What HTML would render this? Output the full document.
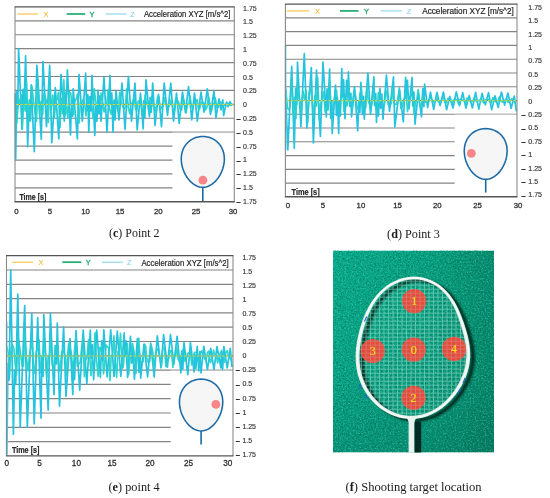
<!DOCTYPE html>
<html lang="en"><head><meta charset="utf-8"><title>Racket acceleration figure</title>
<style>html,body{margin:0;padding:0;background:#fff}body{width:550px;height:498px;overflow:hidden}svg{display:block}</style>
</head><body>
<svg width="550" height="498" viewBox="0 0 550 498">
<defs>
<pattern id="dots" width="1.6" height="1.6" patternUnits="userSpaceOnUse"><rect width="1.6" height="1.6" fill="#f9f9f9"/><circle cx="0.8" cy="0.8" r="0.35" fill="#e2e2e2"/></pattern>
<filter id="grain" color-interpolation-filters="sRGB" x="0" y="0" width="100%" height="100%"><feTurbulence type="fractalNoise" baseFrequency="0.6" numOctaves="3" seed="7" result="n"/><feColorMatrix type="matrix" values="0 0 0 0 0.01  0 0 0 0 0.38  0 0 0 0 0.30  3.2 0 0 0 -1.55"/></filter>
<filter id="grainL" color-interpolation-filters="sRGB" x="0" y="0" width="100%" height="100%"><feTurbulence type="fractalNoise" baseFrequency="0.6" numOctaves="3" seed="23" result="n"/><feColorMatrix type="matrix" values="0 0 0 0 0.37  0 0 0 0 0.88  0 0 0 0 0.78  3.2 0 0 0 -1.55"/></filter>
<filter id="blur1" x="-10%" y="-10%" width="120%" height="120%"><feGaussianBlur stdDeviation="0.8"/></filter>
<filter id="blur05" x="-20%" y="-10%" width="140%" height="120%"><feGaussianBlur stdDeviation="0.6"/></filter>
<linearGradient id="gbg" x1="0" y1="0" x2="1" y2="0"><stop offset="0" stop-color="#07ac8c"/><stop offset="0.6" stop-color="#06a080"/><stop offset="1" stop-color="#058c6c"/></linearGradient>
<linearGradient id="gbg2" x1="0" y1="0" x2="0" y2="1"><stop offset="0" stop-color="#000" stop-opacity="0"/><stop offset="0.6" stop-color="#000" stop-opacity="0.04"/><stop offset="1" stop-color="#000" stop-opacity="0.14"/></linearGradient>
</defs>
<rect width="550" height="498" fill="#fff"/>
<rect x="15.0" y="6.9" width="219.3" height="194.9" fill="#fff"/>
<line x1="15.0" y1="20.82" x2="234.3" y2="20.82" stroke="#848484" stroke-width="1.2"/>
<line x1="15.0" y1="34.74" x2="234.3" y2="34.74" stroke="#848484" stroke-width="1.2"/>
<line x1="15.0" y1="48.66" x2="234.3" y2="48.66" stroke="#848484" stroke-width="1.2"/>
<line x1="15.0" y1="62.59" x2="234.3" y2="62.59" stroke="#848484" stroke-width="1.2"/>
<line x1="15.0" y1="76.51" x2="234.3" y2="76.51" stroke="#848484" stroke-width="1.2"/>
<line x1="15.0" y1="90.43" x2="234.3" y2="90.43" stroke="#848484" stroke-width="1.2"/>
<line x1="15.0" y1="104.35" x2="234.3" y2="104.35" stroke="#848484" stroke-width="1.2"/>
<line x1="15.0" y1="118.27" x2="234.3" y2="118.27" stroke="#848484" stroke-width="1.2"/>
<line x1="15.0" y1="132.19" x2="234.3" y2="132.19" stroke="#848484" stroke-width="1.2"/>
<line x1="172.4" y1="132.19" x2="234.3" y2="132.19" stroke="#cfcfcf" stroke-width="1.2"/>
<line x1="15.0" y1="146.11" x2="172.4" y2="146.11" stroke="#848484" stroke-width="1.2"/>
<line x1="15.0" y1="160.04" x2="172.4" y2="160.04" stroke="#848484" stroke-width="1.2"/>
<line x1="15.0" y1="173.96" x2="172.4" y2="173.96" stroke="#848484" stroke-width="1.2"/>
<line x1="15.0" y1="187.88" x2="172.4" y2="187.88" stroke="#848484" stroke-width="1.2"/>
<polyline points="15.5,101.3 16.9,123.2 18.4,98.1 20.0,103.4 21.2,94.7 22.4,128.8 23.6,101.0 25.2,111.2 26.6,81.4 27.9,124.8 29.2,99.7 30.5,120.6 31.9,86.0 33.6,101.5 34.9,111.2 36.5,121.4 38.0,79.4 39.6,115.0 41.0,101.4 42.6,114.9 44.0,93.1 45.3,97.6 46.9,102.5 48.3,122.5 49.8,83.8 51.1,109.7 52.8,95.0 54.3,118.1 56.0,100.1 57.3,99.7 58.4,92.4 60.0,127.5 61.4,98.2 62.6,114.0 63.8,79.7 65.2,115.8 66.6,106.2 67.8,118.0 69.2,91.5 70.8,93.0 72.4,112.7 73.5,114.3 74.8,101.6 76.1,99.2 77.5,94.0 79.0,123.2 80.4,102.0 81.8,103.2 83.4,98.8 84.8,105.6 86.0,116.0 87.2,101.3 88.6,97.3 90.2,104.4 91.7,106.0 93.0,118.7 94.3,88.7 95.6,100.9 97.2,108.9 98.5,111.1 99.6,109.8 101.1,93.1 102.7,102.7 104.1,112.0 105.5,105.5 106.7,105.2 108.1,89.7 109.7,109.5 111.1,114.2 112.4,104.6 113.9,100.1 115.5,99.8 117.2,108.8 118.4,111.6 119.6,92.2 121.2,102.7 122.5,105.3 124.1,109.4 125.5,106.0 126.7,88.6 128.3,107.6 129.8,113.8 131.1,104.5 132.7,101.6 134.1,97.0 135.6,109.1 136.8,111.1 138.0,101.2 139.4,100.7 140.6,97.2 142.2,115.0 143.8,107.4 145.2,95.0 146.4,103.1 147.7,103.3 149.0,114.3 150.6,101.0 151.9,96.3 153.3,106.3 154.6,106.8 155.9,112.2 157.5,97.1 159.0,96.8 160.3,110.0 161.9,106.5 163.2,106.2 164.6,97.7 165.9,102.8 167.1,109.5 168.4,107.6 170.0,104.2 171.5,98.7 172.7,107.9 174.3,112.4 175.7,98.8 177.3,100.9 178.5,101.3 180.0,108.9 181.6,110.1 182.9,97.1 184.4,102.3 186.0,113.0 187.5,104.5 188.8,103.9 190.0,95.8 191.4,105.5 192.6,108.4 194.2,103.1 195.6,102.9 197.1,99.6 198.4,108.8 199.7,108.9 201.0,102.4 202.6,102.4 204.0,103.2 205.4,110.0 207.0,107.2 208.5,96.3 210.0,104.6 211.5,110.9 213.0,103.4 214.2,103.7 215.4,97.8 216.7,107.5 218.3,107.3 219.8,101.7 221.4,102.4 223.0,104.8 224.5,105.4 226.1,104.8 227.5,103.1 228.7,104.1 229.9,105.0 231.1,105.4 232.6,104.5" fill="none" stroke="#2ad6c8" stroke-width="1.6" stroke-linejoin="round" opacity="0.95"/>
<polyline points="15.3,93.2 15.7,158.9 16.7,91.3 17.8,107.8 18.6,48.7 22.0,129.4 23.0,89.4 24.1,105.4 25.6,55.9 27.7,146.7 29.0,107.5 30.1,120.9 31.2,84.9 34.3,151.7 36.9,65.4 41.3,139.4 43.0,61.5 46.5,126.6 49.7,65.4 51.8,142.8 55.3,87.6 58.8,138.9 61.0,74.3 64.3,121.1 65.1,92.7 66.2,104.8 67.4,69.8 70.5,135.0 71.5,100.4 72.6,116.4 73.2,88.8 77.4,138.9 79.0,74.3 82.3,121.1 85.7,73.2 86.7,110.8 87.8,94.6 88.8,132.2 89.9,96.6 91.0,110.9 92.0,75.4 94.8,135.5 95.8,106.2 96.9,121.3 98.0,90.4 98.9,113.9 100.0,95.8 101.0,121.1 104.0,77.1 107.0,132.2 110.0,75.4 110.7,104.3 111.8,93.2 113.0,132.2 114.0,100.9 115.1,119.9 116.0,91.0 119.0,119.9 122.0,83.2 125.0,129.4 128.4,76.5 131.5,121.1 135.0,83.2 137.2,130.0 140.5,93.2 143.2,128.9 143.8,100.9 144.9,117.5 146.0,79.8 149.5,116.6 150.1,97.6 151.2,112.2 152.7,83.2 155.0,125.5 158.5,94.3 161.5,126.6 164.2,83.2 167.5,115.5 170.8,83.2 173.5,121.1 176.5,93.2 179.2,123.3 182.5,92.1 185.5,112.7 188.5,86.5 191.8,119.9 194.5,93.2 197.3,121.1 201.0,92.1 204.0,112.1 207.3,88.8 210.5,114.4 214.0,91.0 216.0,117.7 219.0,98.8 221.0,109.9 222.8,99.9 223.6,115.5 226.5,102.1 228.0,106.6 230.0,101.6 232.0,105.5" fill="none" stroke="#24c3e0" stroke-width="1.7" stroke-linejoin="round" />
<polyline points="15.5,101.3 16.9,123.2 18.4,98.1 20.0,103.4 21.2,94.7 22.4,128.8 23.6,101.0 25.2,111.2 26.6,81.4 27.9,124.8 29.2,99.7 30.5,120.6 31.9,86.0 33.6,101.5 34.9,111.2 36.5,121.4 38.0,79.4 39.6,115.0 41.0,101.4 42.6,114.9 44.0,93.1 45.3,97.6 46.9,102.5 48.3,122.5 49.8,83.8 51.1,109.7 52.8,95.0 54.3,118.1 56.0,100.1 57.3,99.7 58.4,92.4 60.0,127.5 61.4,98.2 62.6,114.0 63.8,79.7 65.2,115.8 66.6,106.2 67.8,118.0 69.2,91.5 70.8,93.0 72.4,112.7 73.5,114.3 74.8,101.6 76.1,99.2 77.5,94.0 79.0,123.2 80.4,102.0 81.8,103.2 83.4,98.8 84.8,105.6 86.0,116.0 87.2,101.3 88.6,97.3 90.2,104.4 91.7,106.0 93.0,118.7 94.3,88.7 95.6,100.9 97.2,108.9 98.5,111.1 99.6,109.8 101.1,93.1 102.7,102.7 104.1,112.0 105.5,105.5 106.7,105.2 108.1,89.7 109.7,109.5 111.1,114.2 112.4,104.6 113.9,100.1 115.5,99.8 117.2,108.8 118.4,111.6 119.6,92.2 121.2,102.7 122.5,105.3 124.1,109.4 125.5,106.0 126.7,88.6 128.3,107.6 129.8,113.8 131.1,104.5 132.7,101.6 134.1,97.0 135.6,109.1 136.8,111.1 138.0,101.2 139.4,100.7 140.6,97.2 142.2,115.0 143.8,107.4 145.2,95.0 146.4,103.1 147.7,103.3 149.0,114.3 150.6,101.0 151.9,96.3 153.3,106.3 154.6,106.8 155.9,112.2 157.5,97.1 159.0,96.8 160.3,110.0 161.9,106.5 163.2,106.2 164.6,97.7 165.9,102.8 167.1,109.5 168.4,107.6 170.0,104.2 171.5,98.7 172.7,107.9 174.3,112.4 175.7,98.8 177.3,100.9 178.5,101.3 180.0,108.9 181.6,110.1 182.9,97.1 184.4,102.3 186.0,113.0 187.5,104.5 188.8,103.9 190.0,95.8 191.4,105.5 192.6,108.4 194.2,103.1 195.6,102.9 197.1,99.6 198.4,108.8 199.7,108.9 201.0,102.4 202.6,102.4 204.0,103.2 205.4,110.0 207.0,107.2 208.5,96.3 210.0,104.6 211.5,110.9 213.0,103.4 214.2,103.7 215.4,97.8 216.7,107.5 218.3,107.3 219.8,101.7 221.4,102.4 223.0,104.8 224.5,105.4 226.1,104.8 227.5,103.1 228.7,104.1 229.9,105.0 231.1,105.4 232.6,104.5" fill="none" stroke="#2ad6c8" stroke-width="0.9" stroke-linejoin="round" opacity="0.6"/>
<line x1="16.0" y1="104.55" x2="233.3" y2="104.55" stroke="#e4d62c" stroke-width="1.0" stroke-dasharray="2.8 1.4" opacity="0.95"/>
<line x1="15.0" y1="6.9" x2="15.0" y2="201.8" stroke="#8a8a8a" stroke-width="1.1"/>
<line x1="234.3" y1="6.9" x2="234.3" y2="201.8" stroke="#8a8a8a" stroke-width="1.1"/>
<line x1="14.5" y1="6.9" x2="234.8" y2="6.9" stroke="#555" stroke-width="1.3"/>
<line x1="14.5" y1="201.8" x2="234.8" y2="201.8" stroke="#555" stroke-width="1.4"/>
<line x1="17.3" y1="14.0" x2="38.2" y2="14.0" stroke="#f6c443" stroke-width="1.15"/>
<text x="43.6" y="16.7" font-family='"Liberation Sans", "DejaVu Sans", sans-serif' font-size="7.4" fill="#f2b632" stroke="#f2b632" stroke-width="0.1">X</text>
<line x1="66.7" y1="14.0" x2="85.2" y2="14.0" stroke="#1eab6e" stroke-width="1.7"/>
<text x="89.4" y="16.7" font-family='"Liberation Sans", "DejaVu Sans", sans-serif' font-size="7.4" fill="#1ea56a" stroke="#1ea56a" stroke-width="0.3">Y</text>
<line x1="105.6" y1="14.0" x2="126.5" y2="14.0" stroke="#86d6ea" stroke-width="1.1"/>
<text x="130.2" y="16.7" font-family='"Liberation Sans", "DejaVu Sans", sans-serif' font-size="7.4" fill="#86d0e4" stroke="#86d0e4" stroke-width="0.1">Z</text>
<text x="143.9" y="17.3" font-family='"Liberation Sans", "DejaVu Sans", sans-serif' font-size="8.2" fill="#222" stroke="#222" stroke-width="0.18" textLength="86.5" lengthAdjust="spacingAndGlyphs">Acceleration XYZ [m/s^2]</text>
<text x="19.4" y="199.6" font-family='"Liberation Sans", "DejaVu Sans", sans-serif' font-size="8.2" font-weight="bold" fill="#2a2a2a" stroke="#2a2a2a" stroke-width="0.2" textLength="27.0" lengthAdjust="spacingAndGlyphs">Time [s]</text>
<text x="243.1" y="10.6" font-family='"Liberation Sans", "DejaVu Sans", sans-serif' font-size="7" fill="#333" stroke="#333" stroke-width="0.15">1.75</text>
<text x="243.1" y="24.4" font-family='"Liberation Sans", "DejaVu Sans", sans-serif' font-size="7" fill="#333" stroke="#333" stroke-width="0.15">1.5</text>
<text x="243.1" y="38.2" font-family='"Liberation Sans", "DejaVu Sans", sans-serif' font-size="7" fill="#333" stroke="#333" stroke-width="0.15">1.25</text>
<text x="243.1" y="52.0" font-family='"Liberation Sans", "DejaVu Sans", sans-serif' font-size="7" fill="#333" stroke="#333" stroke-width="0.15">1</text>
<text x="243.1" y="65.8" font-family='"Liberation Sans", "DejaVu Sans", sans-serif' font-size="7" fill="#333" stroke="#333" stroke-width="0.15">0.75</text>
<text x="243.1" y="79.6" font-family='"Liberation Sans", "DejaVu Sans", sans-serif' font-size="7" fill="#333" stroke="#333" stroke-width="0.15">0.5</text>
<text x="243.1" y="93.4" font-family='"Liberation Sans", "DejaVu Sans", sans-serif' font-size="7" fill="#333" stroke="#333" stroke-width="0.15">0.25</text>
<text x="243.1" y="107.2" font-family='"Liberation Sans", "DejaVu Sans", sans-serif' font-size="7" fill="#333" stroke="#333" stroke-width="0.15">0</text>
<text x="243.1" y="121.0" font-family='"Liberation Sans", "DejaVu Sans", sans-serif' font-size="7" fill="#333" stroke="#333" stroke-width="0.15">0.25</text>
<text x="236.4" y="121.1" font-family='"Liberation Sans", "DejaVu Sans", sans-serif' font-size="7.4" font-weight="bold" fill="#111" stroke="#111" stroke-width="0.3">&#8211;</text>
<text x="243.1" y="134.8" font-family='"Liberation Sans", "DejaVu Sans", sans-serif' font-size="7" fill="#333" stroke="#333" stroke-width="0.15">0.5</text>
<text x="236.4" y="134.9" font-family='"Liberation Sans", "DejaVu Sans", sans-serif' font-size="7.4" font-weight="bold" fill="#111" stroke="#111" stroke-width="0.3">&#8211;</text>
<text x="243.1" y="148.6" font-family='"Liberation Sans", "DejaVu Sans", sans-serif' font-size="7" fill="#333" stroke="#333" stroke-width="0.15">0.75</text>
<text x="236.4" y="148.7" font-family='"Liberation Sans", "DejaVu Sans", sans-serif' font-size="7.4" font-weight="bold" fill="#111" stroke="#111" stroke-width="0.3">&#8211;</text>
<text x="243.1" y="162.4" font-family='"Liberation Sans", "DejaVu Sans", sans-serif' font-size="7" fill="#333" stroke="#333" stroke-width="0.15">1</text>
<text x="236.4" y="162.5" font-family='"Liberation Sans", "DejaVu Sans", sans-serif' font-size="7.4" font-weight="bold" fill="#111" stroke="#111" stroke-width="0.3">&#8211;</text>
<text x="243.1" y="176.2" font-family='"Liberation Sans", "DejaVu Sans", sans-serif' font-size="7" fill="#333" stroke="#333" stroke-width="0.15">1.25</text>
<text x="236.4" y="176.3" font-family='"Liberation Sans", "DejaVu Sans", sans-serif' font-size="7.4" font-weight="bold" fill="#111" stroke="#111" stroke-width="0.3">&#8211;</text>
<text x="243.1" y="190.0" font-family='"Liberation Sans", "DejaVu Sans", sans-serif' font-size="7" fill="#333" stroke="#333" stroke-width="0.15">1.5</text>
<text x="236.4" y="190.1" font-family='"Liberation Sans", "DejaVu Sans", sans-serif' font-size="7.4" font-weight="bold" fill="#111" stroke="#111" stroke-width="0.3">&#8211;</text>
<text x="243.1" y="203.8" font-family='"Liberation Sans", "DejaVu Sans", sans-serif' font-size="7" fill="#333" stroke="#333" stroke-width="0.15">1.75</text>
<text x="236.4" y="203.9" font-family='"Liberation Sans", "DejaVu Sans", sans-serif' font-size="7.4" font-weight="bold" fill="#111" stroke="#111" stroke-width="0.3">&#8211;</text>
<text x="16.5" y="213.5" text-anchor="middle" font-family='"Liberation Sans", "DejaVu Sans", sans-serif' font-size="7.8" fill="#2e2e2e" stroke="#2e2e2e" stroke-width="0.28">0</text>
<text x="50.0" y="213.5" text-anchor="middle" font-family='"Liberation Sans", "DejaVu Sans", sans-serif' font-size="7.8" fill="#2e2e2e" stroke="#2e2e2e" stroke-width="0.28">5</text>
<text x="85.6" y="213.5" text-anchor="middle" font-family='"Liberation Sans", "DejaVu Sans", sans-serif' font-size="7.8" fill="#2e2e2e" stroke="#2e2e2e" stroke-width="0.28">10</text>
<text x="120.0" y="213.5" text-anchor="middle" font-family='"Liberation Sans", "DejaVu Sans", sans-serif' font-size="7.8" fill="#2e2e2e" stroke="#2e2e2e" stroke-width="0.28">15</text>
<text x="158.3" y="213.5" text-anchor="middle" font-family='"Liberation Sans", "DejaVu Sans", sans-serif' font-size="7.8" fill="#2e2e2e" stroke="#2e2e2e" stroke-width="0.28">20</text>
<text x="196.0" y="213.5" text-anchor="middle" font-family='"Liberation Sans", "DejaVu Sans", sans-serif' font-size="7.8" fill="#2e2e2e" stroke="#2e2e2e" stroke-width="0.28">25</text>
<text x="233.0" y="213.5" text-anchor="middle" font-family='"Liberation Sans", "DejaVu Sans", sans-serif' font-size="7.8" fill="#2e2e2e" stroke="#2e2e2e" stroke-width="0.28">30</text>
<path d="M 202.80 136.50 L 204.89 136.60 L 206.96 136.89 L 208.98 137.37 L 210.94 138.03 L 212.83 138.88 L 214.61 139.90 L 216.28 141.09 L 217.82 142.44 L 219.22 143.94 L 220.46 145.57 L 221.54 147.33 L 222.44 149.20 L 223.18 151.17 L 223.73 153.21 L 224.11 155.33 L 224.31 157.49 L 224.34 159.69 L 224.20 161.90 L 223.90 164.11 L 223.44 166.31 L 222.83 168.47 L 222.08 170.59 L 221.21 172.63 L 220.22 174.60 L 219.12 176.47 L 217.93 178.23 L 216.65 179.86 L 215.29 181.36 L 213.87 182.71 L 212.39 183.90 L 210.86 184.92 L 209.29 185.77 L 207.70 186.43 L 206.08 186.91 L 204.44 187.20 L 202.80 187.30 L 201.16 187.20 L 199.52 186.91 L 197.90 186.43 L 196.31 185.77 L 194.74 184.92 L 193.21 183.90 L 191.73 182.71 L 190.31 181.36 L 188.95 179.86 L 187.67 178.23 L 186.48 176.47 L 185.38 174.60 L 184.39 172.63 L 183.52 170.59 L 182.77 168.47 L 182.16 166.31 L 181.70 164.11 L 181.40 161.90 L 181.26 159.69 L 181.29 157.49 L 181.49 155.33 L 181.87 153.21 L 182.42 151.17 L 183.16 149.20 L 184.06 147.33 L 185.14 145.57 L 186.38 143.94 L 187.78 142.44 L 189.32 141.09 L 190.99 139.90 L 192.77 138.88 L 194.66 138.03 L 196.62 137.37 L 198.64 136.89 L 200.71 136.60 Z" fill="url(#dots)" stroke="#1b6aa5" stroke-width="1.55"/>
<line x1="202.8" y1="187.3" x2="202.8" y2="201.0" stroke="#1b6aa5" stroke-width="1.6"/>
<circle cx="202.9" cy="180.2" r="4.4" fill="#f8858a"/>
<text x="134.3" y="237.2" text-anchor="middle" font-family='"Liberation Serif", "DejaVu Serif", serif' font-size="11.6" fill="#1a1a1a" textLength="50.5" lengthAdjust="spacingAndGlyphs">(<tspan font-weight="bold">c</tspan>) Point 2</text>
<rect x="285.4" y="4.2" width="231.6" height="192.6" fill="#fff"/>
<line x1="285.4" y1="17.96" x2="517.0" y2="17.96" stroke="#848484" stroke-width="1.2"/>
<line x1="285.4" y1="31.71" x2="517.0" y2="31.71" stroke="#848484" stroke-width="1.2"/>
<line x1="285.4" y1="45.47" x2="517.0" y2="45.47" stroke="#848484" stroke-width="1.2"/>
<line x1="285.4" y1="59.23" x2="517.0" y2="59.23" stroke="#848484" stroke-width="1.2"/>
<line x1="285.4" y1="72.99" x2="517.0" y2="72.99" stroke="#848484" stroke-width="1.2"/>
<line x1="285.4" y1="86.74" x2="517.0" y2="86.74" stroke="#848484" stroke-width="1.2"/>
<line x1="285.4" y1="100.50" x2="517.0" y2="100.50" stroke="#848484" stroke-width="1.2"/>
<line x1="285.4" y1="114.26" x2="517.0" y2="114.26" stroke="#848484" stroke-width="1.2"/>
<line x1="454.7" y1="114.26" x2="517.0" y2="114.26" stroke="#cfcfcf" stroke-width="1.2"/>
<line x1="285.4" y1="128.01" x2="454.7" y2="128.01" stroke="#848484" stroke-width="1.2"/>
<line x1="285.4" y1="141.77" x2="454.7" y2="141.77" stroke="#848484" stroke-width="1.2"/>
<line x1="285.4" y1="155.53" x2="454.7" y2="155.53" stroke="#848484" stroke-width="1.2"/>
<line x1="285.4" y1="169.29" x2="454.7" y2="169.29" stroke="#848484" stroke-width="1.2"/>
<line x1="285.4" y1="183.04" x2="454.7" y2="183.04" stroke="#848484" stroke-width="1.2"/>
<polyline points="285.9,88.8 287.5,108.5 288.8,109.7 290.2,105.4 291.6,76.2 293.2,115.3 294.5,97.2 295.9,118.6 297.4,84.3 298.7,97.9 299.9,99.7 301.4,113.3 303.0,91.1 304.5,99.4 306.1,90.0 307.7,122.6 309.1,92.0 310.5,89.0 312.1,99.5 313.5,118.4 314.9,95.9 316.4,106.1 317.7,77.7 319.3,119.6 320.7,103.4 322.0,100.0 323.6,91.9 325.2,112.3 326.5,106.9 327.9,110.2 329.5,79.6 331.1,107.1 332.7,109.2 333.8,103.4 335.3,90.3 336.5,90.0 337.8,106.5 339.0,112.1 340.2,104.4 341.4,94.8 342.9,88.5 344.0,111.7 345.6,99.2 347.1,106.0 348.4,82.5 349.6,105.1 350.8,102.7 352.2,109.9 353.5,96.5 354.7,89.7 355.8,97.7 357.0,106.9 358.7,110.2 360.0,93.6 361.4,88.6 362.9,110.3 364.3,101.4 365.7,107.7 366.9,87.2 368.2,100.4 369.6,104.6 370.8,110.7 372.4,100.8 373.8,89.9 375.2,102.6 376.8,113.3 378.4,92.5 380.0,93.6 381.5,103.3 383.1,105.0 384.5,104.4 385.7,89.9 387.0,94.9 388.2,104.7 389.6,104.9 391.2,103.9 392.4,88.0 393.8,102.6 395.0,104.4 396.5,104.4 397.9,98.8 399.3,87.9 400.9,108.7 402.2,107.1 403.4,100.3 405.0,97.0 406.2,92.5 407.5,111.6 408.7,103.2 410.1,100.9 411.4,89.5 412.8,98.4 414.2,114.1 415.4,101.7 416.7,100.9 418.2,89.5 419.7,104.3 421.1,108.3 422.7,95.6 424.1,97.8 425.7,102.2 427.3,101.5 428.8,101.3 430.0,97.3 431.5,98.8 432.7,103.0 434.3,100.6 435.4,101.0 436.9,96.5 438.1,101.5 439.3,102.3 440.6,102.7 442.0,99.6 443.5,97.1 445.1,102.5 446.5,102.9 448.0,98.3 449.3,99.7 450.5,98.8 451.7,104.3 453.1,100.9 454.7,99.0 456.0,99.3 457.2,100.2 458.5,104.0 459.9,99.6 461.4,99.4 463.0,100.2 464.3,101.4 465.7,103.3 466.9,98.0 468.4,99.2 469.8,100.9 471.2,101.8 472.8,101.5 474.2,97.5 475.4,100.3 476.7,101.6 478.3,100.8 480.0,100.0 481.2,98.2 482.6,101.4 483.8,102.9 485.2,100.2 486.8,99.6 488.3,99.0 489.8,102.1 491.3,102.9 492.8,97.5 494.1,99.9 495.4,101.6 496.7,102.5 497.9,100.9 499.5,96.9 500.8,101.1 502.4,102.1 503.9,100.5 505.5,100.0 506.7,98.5 508.0,102.2 509.3,101.9 510.6,100.4 511.8,98.7 513.4,99.0 514.9,103.0 516.4,101.2" fill="none" stroke="#2ad6c8" stroke-width="1.6" stroke-linejoin="round" opacity="0.95"/>
<polyline points="285.7,95.0 287.8,150.0 291.7,66.4 294.3,148.4 295.7,88.3 296.8,104.6 297.5,62.0 300.9,126.6 304.3,53.7 306.9,128.0 311.3,67.5 313.4,142.9 316.5,70.2 320.4,136.5 323.0,62.0 326.3,117.0 327.0,88.8 328.1,108.6 329.6,69.1 330.7,118.3 331.8,101.3 332.2,133.5 335.5,85.1 336.4,115.5 337.5,97.5 338.7,133.5 339.3,101.7 340.4,115.8 341.8,68.6 342.5,96.8 343.6,79.9 345.0,118.7 346.6,80.3 347.7,97.0 348.4,71.9 349.8,106.4 350.9,93.3 351.5,117.0 354.5,86.7 357.7,130.8 358.8,100.8 359.9,112.3 360.9,82.3 362.5,114.5 363.6,96.3 364.3,119.2 367.9,73.0 370.5,114.3 373.9,76.8 374.6,105.6 375.7,93.5 376.5,122.5 377.3,103.0 378.4,115.9 380.0,88.4 380.7,108.3 381.8,94.0 383.0,119.2 386.4,75.2 389.5,111.5 393.5,76.8 394.8,126.9 399.5,89.5 403.3,122.0 405.6,77.4 406.3,98.5 407.4,80.3 409.0,108.8 412.0,77.4 412.8,105.9 413.9,92.2 415.0,124.2 418.3,92.2 421.5,117.0 422.8,88.5 423.9,106.6 424.6,84.0 427.6,107.7 430.5,92.2 433.7,109.4 436.9,92.4 440.1,105.6 443.4,92.0 446.6,109.7 449.8,96.4 453.0,108.0 456.3,91.8 459.5,105.7 462.7,92.7 465.9,108.2 469.2,95.6 472.4,108.0 475.6,92.3 478.8,109.1 482.1,93.4 485.3,104.8 488.5,92.6 491.7,109.7 495.0,95.8 498.2,107.5 501.4,92.0 504.6,105.1 507.9,93.0 511.1,108.2 514.3,96.0 516.4,111.5" fill="none" stroke="#24c3e0" stroke-width="1.7" stroke-linejoin="round" />
<polyline points="285.9,88.8 287.5,108.5 288.8,109.7 290.2,105.4 291.6,76.2 293.2,115.3 294.5,97.2 295.9,118.6 297.4,84.3 298.7,97.9 299.9,99.7 301.4,113.3 303.0,91.1 304.5,99.4 306.1,90.0 307.7,122.6 309.1,92.0 310.5,89.0 312.1,99.5 313.5,118.4 314.9,95.9 316.4,106.1 317.7,77.7 319.3,119.6 320.7,103.4 322.0,100.0 323.6,91.9 325.2,112.3 326.5,106.9 327.9,110.2 329.5,79.6 331.1,107.1 332.7,109.2 333.8,103.4 335.3,90.3 336.5,90.0 337.8,106.5 339.0,112.1 340.2,104.4 341.4,94.8 342.9,88.5 344.0,111.7 345.6,99.2 347.1,106.0 348.4,82.5 349.6,105.1 350.8,102.7 352.2,109.9 353.5,96.5 354.7,89.7 355.8,97.7 357.0,106.9 358.7,110.2 360.0,93.6 361.4,88.6 362.9,110.3 364.3,101.4 365.7,107.7 366.9,87.2 368.2,100.4 369.6,104.6 370.8,110.7 372.4,100.8 373.8,89.9 375.2,102.6 376.8,113.3 378.4,92.5 380.0,93.6 381.5,103.3 383.1,105.0 384.5,104.4 385.7,89.9 387.0,94.9 388.2,104.7 389.6,104.9 391.2,103.9 392.4,88.0 393.8,102.6 395.0,104.4 396.5,104.4 397.9,98.8 399.3,87.9 400.9,108.7 402.2,107.1 403.4,100.3 405.0,97.0 406.2,92.5 407.5,111.6 408.7,103.2 410.1,100.9 411.4,89.5 412.8,98.4 414.2,114.1 415.4,101.7 416.7,100.9 418.2,89.5 419.7,104.3 421.1,108.3 422.7,95.6 424.1,97.8 425.7,102.2 427.3,101.5 428.8,101.3 430.0,97.3 431.5,98.8 432.7,103.0 434.3,100.6 435.4,101.0 436.9,96.5 438.1,101.5 439.3,102.3 440.6,102.7 442.0,99.6 443.5,97.1 445.1,102.5 446.5,102.9 448.0,98.3 449.3,99.7 450.5,98.8 451.7,104.3 453.1,100.9 454.7,99.0 456.0,99.3 457.2,100.2 458.5,104.0 459.9,99.6 461.4,99.4 463.0,100.2 464.3,101.4 465.7,103.3 466.9,98.0 468.4,99.2 469.8,100.9 471.2,101.8 472.8,101.5 474.2,97.5 475.4,100.3 476.7,101.6 478.3,100.8 480.0,100.0 481.2,98.2 482.6,101.4 483.8,102.9 485.2,100.2 486.8,99.6 488.3,99.0 489.8,102.1 491.3,102.9 492.8,97.5 494.1,99.9 495.4,101.6 496.7,102.5 497.9,100.9 499.5,96.9 500.8,101.1 502.4,102.1 503.9,100.5 505.5,100.0 506.7,98.5 508.0,102.2 509.3,101.9 510.6,100.4 511.8,98.7 513.4,99.0 514.9,103.0 516.4,101.2" fill="none" stroke="#2ad6c8" stroke-width="0.9" stroke-linejoin="round" opacity="0.6"/>
<line x1="286.4" y1="100.70" x2="516.0" y2="100.70" stroke="#e4d62c" stroke-width="1.0" stroke-dasharray="2.8 1.4" opacity="0.95"/>
<line x1="285.6" y1="45.47" x2="285.6" y2="150.03" stroke="#5fd0ee" stroke-width="1.6"/>
<line x1="285.4" y1="4.2" x2="285.4" y2="196.8" stroke="#8a8a8a" stroke-width="1.1"/>
<line x1="517.0" y1="4.2" x2="517.0" y2="196.8" stroke="#8a8a8a" stroke-width="1.1"/>
<line x1="284.9" y1="4.2" x2="517.5" y2="4.2" stroke="#555" stroke-width="1.3"/>
<line x1="284.9" y1="196.8" x2="517.5" y2="196.8" stroke="#555" stroke-width="1.4"/>
<line x1="286.5" y1="10.9" x2="309.4" y2="10.9" stroke="#f6c443" stroke-width="1.15"/>
<text x="315.0" y="13.6" font-family='"Liberation Sans", "DejaVu Sans", sans-serif' font-size="7.4" fill="#f2b632" stroke="#f2b632" stroke-width="0.1">X</text>
<line x1="340.0" y1="10.9" x2="358.5" y2="10.9" stroke="#1eab6e" stroke-width="1.7"/>
<text x="363.9" y="13.6" font-family='"Liberation Sans", "DejaVu Sans", sans-serif' font-size="7.4" fill="#1ea56a" stroke="#1ea56a" stroke-width="0.3">Y</text>
<line x1="380.6" y1="10.9" x2="402.0" y2="10.9" stroke="#86d6ea" stroke-width="1.1"/>
<text x="406.7" y="13.6" font-family='"Liberation Sans", "DejaVu Sans", sans-serif' font-size="7.4" fill="#86d0e4" stroke="#86d0e4" stroke-width="0.1">Z</text>
<text x="422.2" y="14.0" font-family='"Liberation Sans", "DejaVu Sans", sans-serif' font-size="8.2" fill="#222" stroke="#222" stroke-width="0.18" textLength="91.6" lengthAdjust="spacingAndGlyphs">Acceleration XYZ [m/s^2]</text>
<text x="291.5" y="195.0" font-family='"Liberation Sans", "DejaVu Sans", sans-serif' font-size="8.2" font-weight="bold" fill="#2a2a2a" stroke="#2a2a2a" stroke-width="0.2" textLength="28.2" lengthAdjust="spacingAndGlyphs">Time [s]</text>
<text x="528.3" y="9.8" font-family='"Liberation Sans", "DejaVu Sans", sans-serif' font-size="7" fill="#333" stroke="#333" stroke-width="0.15">1.75</text>
<text x="528.3" y="23.2" font-family='"Liberation Sans", "DejaVu Sans", sans-serif' font-size="7" fill="#333" stroke="#333" stroke-width="0.15">1.5</text>
<text x="528.3" y="36.6" font-family='"Liberation Sans", "DejaVu Sans", sans-serif' font-size="7" fill="#333" stroke="#333" stroke-width="0.15">1.25</text>
<text x="528.3" y="50.0" font-family='"Liberation Sans", "DejaVu Sans", sans-serif' font-size="7" fill="#333" stroke="#333" stroke-width="0.15">1</text>
<text x="528.3" y="63.4" font-family='"Liberation Sans", "DejaVu Sans", sans-serif' font-size="7" fill="#333" stroke="#333" stroke-width="0.15">0.75</text>
<text x="528.3" y="76.8" font-family='"Liberation Sans", "DejaVu Sans", sans-serif' font-size="7" fill="#333" stroke="#333" stroke-width="0.15">0.5</text>
<text x="528.3" y="90.2" font-family='"Liberation Sans", "DejaVu Sans", sans-serif' font-size="7" fill="#333" stroke="#333" stroke-width="0.15">0.25</text>
<text x="528.3" y="103.6" font-family='"Liberation Sans", "DejaVu Sans", sans-serif' font-size="7" fill="#333" stroke="#333" stroke-width="0.15">0</text>
<text x="528.3" y="117.0" font-family='"Liberation Sans", "DejaVu Sans", sans-serif' font-size="7" fill="#333" stroke="#333" stroke-width="0.15">0.25</text>
<text x="521.6" y="117.1" font-family='"Liberation Sans", "DejaVu Sans", sans-serif' font-size="7.4" font-weight="bold" fill="#111" stroke="#111" stroke-width="0.3">&#8211;</text>
<text x="528.3" y="130.4" font-family='"Liberation Sans", "DejaVu Sans", sans-serif' font-size="7" fill="#333" stroke="#333" stroke-width="0.15">0.5</text>
<text x="521.6" y="130.5" font-family='"Liberation Sans", "DejaVu Sans", sans-serif' font-size="7.4" font-weight="bold" fill="#111" stroke="#111" stroke-width="0.3">&#8211;</text>
<text x="528.3" y="143.8" font-family='"Liberation Sans", "DejaVu Sans", sans-serif' font-size="7" fill="#333" stroke="#333" stroke-width="0.15">0.75</text>
<text x="521.6" y="143.9" font-family='"Liberation Sans", "DejaVu Sans", sans-serif' font-size="7.4" font-weight="bold" fill="#111" stroke="#111" stroke-width="0.3">&#8211;</text>
<text x="528.3" y="157.2" font-family='"Liberation Sans", "DejaVu Sans", sans-serif' font-size="7" fill="#333" stroke="#333" stroke-width="0.15">1</text>
<text x="521.6" y="157.3" font-family='"Liberation Sans", "DejaVu Sans", sans-serif' font-size="7.4" font-weight="bold" fill="#111" stroke="#111" stroke-width="0.3">&#8211;</text>
<text x="528.3" y="170.6" font-family='"Liberation Sans", "DejaVu Sans", sans-serif' font-size="7" fill="#333" stroke="#333" stroke-width="0.15">1.25</text>
<text x="521.6" y="170.7" font-family='"Liberation Sans", "DejaVu Sans", sans-serif' font-size="7.4" font-weight="bold" fill="#111" stroke="#111" stroke-width="0.3">&#8211;</text>
<text x="528.3" y="184.0" font-family='"Liberation Sans", "DejaVu Sans", sans-serif' font-size="7" fill="#333" stroke="#333" stroke-width="0.15">1.5</text>
<text x="521.6" y="184.1" font-family='"Liberation Sans", "DejaVu Sans", sans-serif' font-size="7.4" font-weight="bold" fill="#111" stroke="#111" stroke-width="0.3">&#8211;</text>
<text x="528.3" y="197.4" font-family='"Liberation Sans", "DejaVu Sans", sans-serif' font-size="7" fill="#333" stroke="#333" stroke-width="0.15">1.75</text>
<text x="521.6" y="197.5" font-family='"Liberation Sans", "DejaVu Sans", sans-serif' font-size="7.4" font-weight="bold" fill="#111" stroke="#111" stroke-width="0.3">&#8211;</text>
<text x="287.9" y="207.9" text-anchor="middle" font-family='"Liberation Sans", "DejaVu Sans", sans-serif' font-size="7.8" fill="#2e2e2e" stroke="#2e2e2e" stroke-width="0.28">0</text>
<text x="322.9" y="207.9" text-anchor="middle" font-family='"Liberation Sans", "DejaVu Sans", sans-serif' font-size="7.8" fill="#2e2e2e" stroke="#2e2e2e" stroke-width="0.28">5</text>
<text x="360.9" y="207.9" text-anchor="middle" font-family='"Liberation Sans", "DejaVu Sans", sans-serif' font-size="7.8" fill="#2e2e2e" stroke="#2e2e2e" stroke-width="0.28">10</text>
<text x="397.6" y="207.9" text-anchor="middle" font-family='"Liberation Sans", "DejaVu Sans", sans-serif' font-size="7.8" fill="#2e2e2e" stroke="#2e2e2e" stroke-width="0.28">15</text>
<text x="437.3" y="207.9" text-anchor="middle" font-family='"Liberation Sans", "DejaVu Sans", sans-serif' font-size="7.8" fill="#2e2e2e" stroke="#2e2e2e" stroke-width="0.28">20</text>
<text x="477.5" y="207.9" text-anchor="middle" font-family='"Liberation Sans", "DejaVu Sans", sans-serif' font-size="7.8" fill="#2e2e2e" stroke="#2e2e2e" stroke-width="0.28">25</text>
<text x="518.0" y="207.9" text-anchor="middle" font-family='"Liberation Sans", "DejaVu Sans", sans-serif' font-size="7.8" fill="#2e2e2e" stroke="#2e2e2e" stroke-width="0.28">30</text>
<path d="M 485.70 128.60 L 487.78 128.70 L 489.84 128.99 L 491.85 129.46 L 493.81 130.13 L 495.68 130.98 L 497.46 132.00 L 499.12 133.18 L 500.65 134.53 L 502.04 136.02 L 503.28 137.66 L 504.35 139.41 L 505.25 141.27 L 505.98 143.24 L 506.54 145.28 L 506.91 147.39 L 507.11 149.55 L 507.14 151.74 L 507.00 153.95 L 506.70 156.16 L 506.24 158.35 L 505.64 160.51 L 504.89 162.62 L 504.03 164.66 L 503.04 166.62 L 501.95 168.49 L 500.76 170.24 L 499.48 171.88 L 498.13 173.37 L 496.72 174.72 L 495.24 175.90 L 493.72 176.92 L 492.16 177.77 L 490.57 178.44 L 488.96 178.91 L 487.33 179.20 L 485.70 179.30 L 484.07 179.20 L 482.44 178.91 L 480.83 178.44 L 479.24 177.77 L 477.68 176.92 L 476.16 175.90 L 474.68 174.72 L 473.27 173.37 L 471.92 171.88 L 470.64 170.24 L 469.45 168.49 L 468.36 166.62 L 467.37 164.66 L 466.51 162.62 L 465.76 160.51 L 465.16 158.35 L 464.70 156.16 L 464.40 153.95 L 464.26 151.74 L 464.29 149.55 L 464.49 147.39 L 464.86 145.28 L 465.42 143.24 L 466.15 141.28 L 467.05 139.41 L 468.12 137.66 L 469.36 136.02 L 470.75 134.53 L 472.28 133.18 L 473.94 132.00 L 475.72 130.98 L 477.59 130.13 L 479.55 129.46 L 481.56 128.99 L 483.62 128.70 Z" fill="url(#dots)" stroke="#1b6aa5" stroke-width="1.55"/>
<line x1="485.7" y1="179.3" x2="485.7" y2="192.6" stroke="#1b6aa5" stroke-width="1.6"/>
<circle cx="471.3" cy="153.4" r="4.4" fill="#f8858a"/>
<text x="413.5" y="237.6" text-anchor="middle" font-family='"Liberation Serif", "DejaVu Serif", serif' font-size="11.6" fill="#1a1a1a" textLength="52.8" lengthAdjust="spacingAndGlyphs">(<tspan font-weight="bold">d</tspan>) Point 3</text>
<rect x="6.5" y="255.7" width="226.5" height="200.2" fill="#fff"/>
<line x1="6.5" y1="270.00" x2="233.0" y2="270.00" stroke="#848484" stroke-width="1.2"/>
<line x1="6.5" y1="284.30" x2="233.0" y2="284.30" stroke="#848484" stroke-width="1.2"/>
<line x1="6.5" y1="298.60" x2="233.0" y2="298.60" stroke="#848484" stroke-width="1.2"/>
<line x1="6.5" y1="312.90" x2="233.0" y2="312.90" stroke="#848484" stroke-width="1.2"/>
<line x1="6.5" y1="327.20" x2="233.0" y2="327.20" stroke="#848484" stroke-width="1.2"/>
<line x1="6.5" y1="341.50" x2="233.0" y2="341.50" stroke="#848484" stroke-width="1.2"/>
<line x1="6.5" y1="355.80" x2="233.0" y2="355.80" stroke="#848484" stroke-width="1.2"/>
<line x1="6.5" y1="370.10" x2="233.0" y2="370.10" stroke="#848484" stroke-width="1.2"/>
<line x1="170.7" y1="370.10" x2="233.0" y2="370.10" stroke="#cfcfcf" stroke-width="1.2"/>
<line x1="6.5" y1="384.40" x2="170.7" y2="384.40" stroke="#848484" stroke-width="1.2"/>
<line x1="6.5" y1="398.70" x2="170.7" y2="398.70" stroke="#848484" stroke-width="1.2"/>
<line x1="6.5" y1="413.00" x2="170.7" y2="413.00" stroke="#848484" stroke-width="1.2"/>
<line x1="6.5" y1="427.30" x2="170.7" y2="427.30" stroke="#848484" stroke-width="1.2"/>
<line x1="6.5" y1="441.60" x2="170.7" y2="441.60" stroke="#848484" stroke-width="1.2"/>
<polyline points="7.0,346.7 8.5,354.7 9.6,375.1 11.2,347.4 12.5,345.1 13.9,348.4 15.2,364.2 16.5,375.0 18.1,337.2 19.6,346.0 20.8,355.8 22.2,366.2 23.4,366.0 24.8,332.7 26.3,356.3 28.0,370.9 29.5,354.0 31.1,346.8 32.3,341.7 33.6,366.7 34.9,373.6 36.2,351.3 37.6,349.9 39.0,339.9 40.6,372.4 42.2,371.2 43.9,333.0 45.1,351.9 46.8,377.3 48.2,356.4 49.4,357.6 50.9,336.7 52.1,363.4 53.7,372.8 55.3,345.7 56.5,351.0 58.0,345.9 59.2,371.4 60.4,367.0 61.7,352.3 63.3,350.2 65.0,355.8 66.2,375.9 67.3,358.2 68.7,343.2 69.9,346.7 71.5,354.5 73.1,375.8 74.5,349.9 75.9,334.8 77.3,366.2 78.8,364.0 80.2,362.2 81.7,347.4 83.0,337.6 84.4,376.7 85.6,359.9 87.0,357.9 88.5,339.9 89.6,352.6 91.0,375.8 92.3,357.1 93.9,353.6 95.0,332.8 96.7,361.5 98.1,376.3 99.4,347.2 100.7,350.8 102.1,344.6 103.5,373.9 104.6,364.1 106.1,344.9 107.4,346.8 108.7,347.9 110.0,380.7 111.2,355.7 112.6,354.8 113.9,335.8 115.2,360.0 116.6,377.4 118.0,351.2 119.2,351.9 120.5,333.4 122.0,368.4 123.3,367.2 124.8,346.6 126.1,349.9 127.4,343.2 128.7,374.6 130.1,357.7 131.4,351.7 132.6,343.6 134.3,353.2 135.9,373.3 137.5,352.4 138.8,338.4 140.4,365.0 141.8,361.5 143.1,361.7 144.3,344.0 145.6,345.7 146.7,358.0 148.2,362.4 149.8,361.1 151.3,345.3 152.8,352.2 154.1,371.5 155.5,354.3 157.1,348.5 158.4,350.8 160.0,357.5 161.6,365.8 162.8,347.7 164.4,347.1 165.9,366.6 167.5,360.6 168.6,359.1 170.2,350.7 171.5,350.9 172.9,367.4 174.3,355.8 175.4,356.2 176.7,346.2 177.8,358.6 179.4,362.0 180.8,355.5 182.1,354.3 183.6,347.3 184.9,361.3 186.3,359.7 187.7,353.2 189.0,353.2 190.3,350.8 191.7,365.0 193.0,357.1 194.5,352.5 195.8,352.2 197.3,354.7 198.8,363.4 200.1,353.7 201.6,350.8 203.0,356.6 204.6,358.0 205.9,361.0 207.5,352.6 208.8,351.1 210.4,362.6 212.0,358.9 213.5,350.1 214.9,355.1 216.3,355.7 217.6,362.8 218.7,355.2 219.9,353.7 221.2,351.9 222.7,356.5 224.3,362.3 225.9,352.2 227.3,350.6 228.5,357.1 229.9,357.7 231.1,360.3" fill="none" stroke="#2ad6c8" stroke-width="1.6" stroke-linejoin="round" opacity="0.95"/>
<polyline points="6.8,454.2 8.0,363.5 9.1,380.1 10.7,270.0 13.4,434.2 14.6,370.7 15.7,384.4 17.8,294.0 20.2,427.3 24.7,305.5 27.3,427.3 31.8,313.5 34.2,423.9 37.7,317.5 41.0,418.1 41.9,356.2 43.0,376.5 43.8,314.6 48.2,410.1 50.4,313.5 54.0,394.7 55.3,345.7 56.4,364.0 57.3,323.2 59.5,406.1 63.6,327.2 66.0,396.4 70.0,338.6 72.8,394.7 73.5,361.3 74.6,379.6 76.0,330.6 79.7,390.1 83.2,330.1 86.8,383.8 90.3,330.1 91.2,358.1 92.3,344.8 93.6,379.8 96.7,330.1 100.4,377.5 101.7,340.8 102.8,361.0 103.8,329.8 107.2,377.0 110.7,329.8 114.0,376.4 117.3,331.2 120.8,376.4 124.2,332.9 124.9,356.8 126.0,340.9 127.6,377.5 130.5,336.4 131.7,363.2 132.8,348.8 134.4,379.3 137.4,338.6 139.0,372.1 140.1,356.3 140.7,378.1 144.0,344.4 147.6,377.0 150.7,343.2 154.2,377.0 157.3,335.8 161.0,367.8 163.6,334.6 167.4,367.2 170.5,334.6 173.8,364.4 177.1,336.4 180.9,373.0 181.7,351.2 182.8,369.2 184.0,342.6 187.8,374.7 190.4,342.6 194.1,371.8 194.8,354.6 195.9,368.4 197.2,346.4 198.8,370.9 199.9,351.6 201.0,373.0 203.8,346.4 207.4,369.5 210.7,348.4 214.0,369.5 217.0,346.6 220.9,367.8 221.5,350.3 222.6,369.4 223.9,346.6 227.2,367.8 230.3,348.4 232.0,367.2" fill="none" stroke="#24c3e0" stroke-width="1.7" stroke-linejoin="round" />
<polyline points="7.0,346.7 8.5,354.7 9.6,375.1 11.2,347.4 12.5,345.1 13.9,348.4 15.2,364.2 16.5,375.0 18.1,337.2 19.6,346.0 20.8,355.8 22.2,366.2 23.4,366.0 24.8,332.7 26.3,356.3 28.0,370.9 29.5,354.0 31.1,346.8 32.3,341.7 33.6,366.7 34.9,373.6 36.2,351.3 37.6,349.9 39.0,339.9 40.6,372.4 42.2,371.2 43.9,333.0 45.1,351.9 46.8,377.3 48.2,356.4 49.4,357.6 50.9,336.7 52.1,363.4 53.7,372.8 55.3,345.7 56.5,351.0 58.0,345.9 59.2,371.4 60.4,367.0 61.7,352.3 63.3,350.2 65.0,355.8 66.2,375.9 67.3,358.2 68.7,343.2 69.9,346.7 71.5,354.5 73.1,375.8 74.5,349.9 75.9,334.8 77.3,366.2 78.8,364.0 80.2,362.2 81.7,347.4 83.0,337.6 84.4,376.7 85.6,359.9 87.0,357.9 88.5,339.9 89.6,352.6 91.0,375.8 92.3,357.1 93.9,353.6 95.0,332.8 96.7,361.5 98.1,376.3 99.4,347.2 100.7,350.8 102.1,344.6 103.5,373.9 104.6,364.1 106.1,344.9 107.4,346.8 108.7,347.9 110.0,380.7 111.2,355.7 112.6,354.8 113.9,335.8 115.2,360.0 116.6,377.4 118.0,351.2 119.2,351.9 120.5,333.4 122.0,368.4 123.3,367.2 124.8,346.6 126.1,349.9 127.4,343.2 128.7,374.6 130.1,357.7 131.4,351.7 132.6,343.6 134.3,353.2 135.9,373.3 137.5,352.4 138.8,338.4 140.4,365.0 141.8,361.5 143.1,361.7 144.3,344.0 145.6,345.7 146.7,358.0 148.2,362.4 149.8,361.1 151.3,345.3 152.8,352.2 154.1,371.5 155.5,354.3 157.1,348.5 158.4,350.8 160.0,357.5 161.6,365.8 162.8,347.7 164.4,347.1 165.9,366.6 167.5,360.6 168.6,359.1 170.2,350.7 171.5,350.9 172.9,367.4 174.3,355.8 175.4,356.2 176.7,346.2 177.8,358.6 179.4,362.0 180.8,355.5 182.1,354.3 183.6,347.3 184.9,361.3 186.3,359.7 187.7,353.2 189.0,353.2 190.3,350.8 191.7,365.0 193.0,357.1 194.5,352.5 195.8,352.2 197.3,354.7 198.8,363.4 200.1,353.7 201.6,350.8 203.0,356.6 204.6,358.0 205.9,361.0 207.5,352.6 208.8,351.1 210.4,362.6 212.0,358.9 213.5,350.1 214.9,355.1 216.3,355.7 217.6,362.8 218.7,355.2 219.9,353.7 221.2,351.9 222.7,356.5 224.3,362.3 225.9,352.2 227.3,350.6 228.5,357.1 229.9,357.7 231.1,360.3" fill="none" stroke="#2ad6c8" stroke-width="0.9" stroke-linejoin="round" opacity="0.6"/>
<line x1="7.5" y1="356.00" x2="232.0" y2="356.00" stroke="#e4d62c" stroke-width="1.0" stroke-dasharray="2.8 1.4" opacity="0.95"/>
<line x1="6.7" y1="321.48" x2="6.7" y2="455.90" stroke="#5fd0ee" stroke-width="1.6"/>
<line x1="6.5" y1="255.7" x2="6.5" y2="455.9" stroke="#8a8a8a" stroke-width="1.1"/>
<line x1="233.0" y1="255.7" x2="233.0" y2="455.9" stroke="#8a8a8a" stroke-width="1.1"/>
<line x1="6.0" y1="255.7" x2="233.5" y2="255.7" stroke="#555" stroke-width="1.3"/>
<line x1="6.0" y1="455.9" x2="233.5" y2="455.9" stroke="#555" stroke-width="1.4"/>
<line x1="12.2" y1="262.2" x2="33.1" y2="262.2" stroke="#f6c443" stroke-width="1.15"/>
<text x="38.5" y="264.9" font-family='"Liberation Sans", "DejaVu Sans", sans-serif' font-size="7.4" fill="#f2b632" stroke="#f2b632" stroke-width="0.1">X</text>
<line x1="62.3" y1="262.2" x2="81.4" y2="262.2" stroke="#1eab6e" stroke-width="1.7"/>
<text x="85.7" y="264.9" font-family='"Liberation Sans", "DejaVu Sans", sans-serif' font-size="7.4" fill="#1ea56a" stroke="#1ea56a" stroke-width="0.3">Y</text>
<line x1="101.8" y1="262.2" x2="122.9" y2="262.2" stroke="#86d6ea" stroke-width="1.1"/>
<text x="127.1" y="264.9" font-family='"Liberation Sans", "DejaVu Sans", sans-serif' font-size="7.4" fill="#86d0e4" stroke="#86d0e4" stroke-width="0.1">Z</text>
<text x="141.4" y="265.5" font-family='"Liberation Sans", "DejaVu Sans", sans-serif' font-size="8.2" fill="#222" stroke="#222" stroke-width="0.18" textLength="87.3" lengthAdjust="spacingAndGlyphs">Acceleration XYZ [m/s^2]</text>
<text x="11.9" y="453.2" font-family='"Liberation Sans", "DejaVu Sans", sans-serif' font-size="8.2" font-weight="bold" fill="#2a2a2a" stroke="#2a2a2a" stroke-width="0.2" textLength="27.6" lengthAdjust="spacingAndGlyphs">Time [s]</text>
<text x="242.4" y="259.6" font-family='"Liberation Sans", "DejaVu Sans", sans-serif' font-size="7" fill="#333" stroke="#333" stroke-width="0.15">1.75</text>
<text x="242.4" y="273.7" font-family='"Liberation Sans", "DejaVu Sans", sans-serif' font-size="7" fill="#333" stroke="#333" stroke-width="0.15">1.5</text>
<text x="242.4" y="287.8" font-family='"Liberation Sans", "DejaVu Sans", sans-serif' font-size="7" fill="#333" stroke="#333" stroke-width="0.15">1.25</text>
<text x="242.4" y="301.9" font-family='"Liberation Sans", "DejaVu Sans", sans-serif' font-size="7" fill="#333" stroke="#333" stroke-width="0.15">1</text>
<text x="242.4" y="316.0" font-family='"Liberation Sans", "DejaVu Sans", sans-serif' font-size="7" fill="#333" stroke="#333" stroke-width="0.15">0.75</text>
<text x="242.4" y="330.0" font-family='"Liberation Sans", "DejaVu Sans", sans-serif' font-size="7" fill="#333" stroke="#333" stroke-width="0.15">0.5</text>
<text x="242.4" y="344.1" font-family='"Liberation Sans", "DejaVu Sans", sans-serif' font-size="7" fill="#333" stroke="#333" stroke-width="0.15">0.25</text>
<text x="242.4" y="358.2" font-family='"Liberation Sans", "DejaVu Sans", sans-serif' font-size="7" fill="#333" stroke="#333" stroke-width="0.15">0</text>
<text x="242.4" y="372.3" font-family='"Liberation Sans", "DejaVu Sans", sans-serif' font-size="7" fill="#333" stroke="#333" stroke-width="0.15">0.25</text>
<text x="235.7" y="372.4" font-family='"Liberation Sans", "DejaVu Sans", sans-serif' font-size="7.4" font-weight="bold" fill="#111" stroke="#111" stroke-width="0.3">&#8211;</text>
<text x="242.4" y="386.4" font-family='"Liberation Sans", "DejaVu Sans", sans-serif' font-size="7" fill="#333" stroke="#333" stroke-width="0.15">0.5</text>
<text x="235.7" y="386.5" font-family='"Liberation Sans", "DejaVu Sans", sans-serif' font-size="7.4" font-weight="bold" fill="#111" stroke="#111" stroke-width="0.3">&#8211;</text>
<text x="242.4" y="400.5" font-family='"Liberation Sans", "DejaVu Sans", sans-serif' font-size="7" fill="#333" stroke="#333" stroke-width="0.15">0.75</text>
<text x="235.7" y="400.6" font-family='"Liberation Sans", "DejaVu Sans", sans-serif' font-size="7.4" font-weight="bold" fill="#111" stroke="#111" stroke-width="0.3">&#8211;</text>
<text x="242.4" y="414.6" font-family='"Liberation Sans", "DejaVu Sans", sans-serif' font-size="7" fill="#333" stroke="#333" stroke-width="0.15">1</text>
<text x="235.7" y="414.7" font-family='"Liberation Sans", "DejaVu Sans", sans-serif' font-size="7.4" font-weight="bold" fill="#111" stroke="#111" stroke-width="0.3">&#8211;</text>
<text x="242.4" y="428.7" font-family='"Liberation Sans", "DejaVu Sans", sans-serif' font-size="7" fill="#333" stroke="#333" stroke-width="0.15">1.25</text>
<text x="235.7" y="428.8" font-family='"Liberation Sans", "DejaVu Sans", sans-serif' font-size="7.4" font-weight="bold" fill="#111" stroke="#111" stroke-width="0.3">&#8211;</text>
<text x="242.4" y="442.8" font-family='"Liberation Sans", "DejaVu Sans", sans-serif' font-size="7" fill="#333" stroke="#333" stroke-width="0.15">1.5</text>
<text x="235.7" y="442.9" font-family='"Liberation Sans", "DejaVu Sans", sans-serif' font-size="7.4" font-weight="bold" fill="#111" stroke="#111" stroke-width="0.3">&#8211;</text>
<text x="242.4" y="456.9" font-family='"Liberation Sans", "DejaVu Sans", sans-serif' font-size="7" fill="#333" stroke="#333" stroke-width="0.15">1.75</text>
<text x="235.7" y="457.0" font-family='"Liberation Sans", "DejaVu Sans", sans-serif' font-size="7.4" font-weight="bold" fill="#111" stroke="#111" stroke-width="0.3">&#8211;</text>
<text x="6.7" y="465.9" text-anchor="middle" font-family='"Liberation Sans", "DejaVu Sans", sans-serif' font-size="8.2" fill="#2e2e2e" stroke="#2e2e2e" stroke-width="0.28">0</text>
<text x="39.5" y="465.9" text-anchor="middle" font-family='"Liberation Sans", "DejaVu Sans", sans-serif' font-size="8.2" fill="#2e2e2e" stroke="#2e2e2e" stroke-width="0.28">5</text>
<text x="76.4" y="465.9" text-anchor="middle" font-family='"Liberation Sans", "DejaVu Sans", sans-serif' font-size="8.2" fill="#2e2e2e" stroke="#2e2e2e" stroke-width="0.28">10</text>
<text x="112.0" y="465.9" text-anchor="middle" font-family='"Liberation Sans", "DejaVu Sans", sans-serif' font-size="8.2" fill="#2e2e2e" stroke="#2e2e2e" stroke-width="0.28">15</text>
<text x="150.0" y="465.9" text-anchor="middle" font-family='"Liberation Sans", "DejaVu Sans", sans-serif' font-size="8.2" fill="#2e2e2e" stroke="#2e2e2e" stroke-width="0.28">20</text>
<text x="188.5" y="465.9" text-anchor="middle" font-family='"Liberation Sans", "DejaVu Sans", sans-serif' font-size="8.2" fill="#2e2e2e" stroke="#2e2e2e" stroke-width="0.28">25</text>
<text x="227.7" y="465.9" text-anchor="middle" font-family='"Liberation Sans", "DejaVu Sans", sans-serif' font-size="8.2" fill="#2e2e2e" stroke="#2e2e2e" stroke-width="0.28">30</text>
<path d="M 201.10 379.10 L 203.20 379.20 L 205.27 379.49 L 207.31 379.98 L 209.28 380.66 L 211.17 381.53 L 212.97 382.57 L 214.64 383.78 L 216.19 385.16 L 217.59 386.69 L 218.84 388.35 L 219.92 390.14 L 220.84 392.05 L 221.57 394.05 L 222.13 396.14 L 222.51 398.30 L 222.71 400.50 L 222.74 402.74 L 222.60 405.00 L 222.29 407.26 L 221.83 409.50 L 221.22 411.70 L 220.47 413.86 L 219.60 415.95 L 218.60 417.95 L 217.50 419.86 L 216.30 421.65 L 215.01 423.31 L 213.65 424.84 L 212.22 426.22 L 210.73 427.43 L 209.20 428.47 L 207.62 429.34 L 206.02 430.02 L 204.39 430.51 L 202.75 430.80 L 201.10 430.90 L 199.45 430.80 L 197.81 430.51 L 196.18 430.02 L 194.58 429.34 L 193.00 428.47 L 191.47 427.43 L 189.98 426.22 L 188.55 424.84 L 187.19 423.31 L 185.90 421.65 L 184.70 419.86 L 183.60 417.95 L 182.60 415.95 L 181.73 413.86 L 180.98 411.70 L 180.37 409.50 L 179.91 407.26 L 179.60 405.00 L 179.46 402.74 L 179.49 400.50 L 179.69 398.30 L 180.07 396.14 L 180.63 394.05 L 181.36 392.05 L 182.28 390.14 L 183.36 388.35 L 184.61 386.69 L 186.01 385.16 L 187.56 383.78 L 189.23 382.57 L 191.03 381.53 L 192.92 380.66 L 194.89 379.98 L 196.93 379.49 L 199.00 379.20 Z" fill="url(#dots)" stroke="#1b6aa5" stroke-width="1.55"/>
<line x1="201.1" y1="430.9" x2="201.1" y2="444.5" stroke="#1b6aa5" stroke-width="1.6"/>
<circle cx="215.9" cy="404.4" r="4.4" fill="#f8858a"/>
<text x="134.1" y="490.9" text-anchor="middle" font-family='"Liberation Serif", "DejaVu Serif", serif' font-size="11.6" fill="#1a1a1a" textLength="51.2" lengthAdjust="spacingAndGlyphs">(<tspan font-weight="bold">e</tspan>) point 4</text>
<g>
<clipPath id="pc"><rect x="333.0" y="250.5" width="161.0" height="202.0"/></clipPath>
<g clip-path="url(#pc)">
<rect x="333.0" y="250.5" width="161.0" height="202.0" fill="url(#gbg)"/>
<rect x="333.0" y="250.5" width="161.0" height="202.0" fill="url(#gbg2)"/>
<rect x="333.0" y="250.5" width="161.0" height="202.0" fill="#03604c" filter="url(#grain)" opacity="0.6"/>
<rect x="333.0" y="250.5" width="161.0" height="202.0" fill="#5fe0c6" filter="url(#grainL)" opacity="0.38"/>
<clipPath id="hc"><path d="M 359.90 349.00 L 360.33 345.53 L 360.85 342.11 L 361.47 338.71 L 362.18 335.33 L 362.96 331.95 L 363.84 328.55 L 364.81 325.13 L 365.89 321.69 L 367.11 318.20 L 368.49 314.69 L 370.05 311.16 L 371.83 307.63 L 373.84 304.12 L 376.12 300.67 L 378.67 297.32 L 381.51 294.10 L 384.64 291.08 L 388.05 288.29 L 391.75 285.80 L 395.69 283.65 L 399.85 281.90 L 404.19 280.58 L 408.66 279.74 L 413.20 279.39 L 417.75 279.57 L 422.25 280.26 L 426.63 281.47 L 430.84 283.16 L 434.83 285.29 L 438.54 287.83 L 441.95 290.71 L 445.03 293.86 L 447.79 297.23 L 450.23 300.74 L 452.37 304.33 L 454.24 307.96 L 455.88 311.57 L 457.32 315.15 L 458.61 318.66 L 459.78 322.11 L 460.85 325.50 L 461.85 328.85 L 462.79 332.17 L 463.66 335.48 L 464.44 338.81 L 465.13 342.16 L 465.70 345.56 L 466.11 349.00 L 466.32 352.48 L 466.33 355.99 L 466.12 359.53 L 465.69 363.07 L 465.04 366.60 L 464.15 370.10 L 463.04 373.58 L 461.72 377.01 L 460.20 380.40 L 458.47 383.74 L 456.56 387.03 L 454.45 390.25 L 452.15 393.41 L 449.64 396.49 L 446.92 399.47 L 443.98 402.32 L 440.82 405.00 L 437.43 407.49 L 433.81 409.72 L 429.99 411.67 L 425.99 413.28 L 421.83 414.52 L 417.55 415.36 L 413.20 415.78 L 408.82 415.77 L 404.47 415.32 L 400.18 414.46 L 396.00 413.18 L 391.97 411.54 L 388.12 409.55 L 384.48 407.25 L 381.06 404.67 L 377.88 401.86 L 374.95 398.85 L 372.28 395.67 L 369.86 392.34 L 367.71 388.89 L 365.82 385.36 L 364.19 381.75 L 362.82 378.09 L 361.70 374.40 L 360.82 370.70 L 360.18 367.00 L 359.76 363.32 L 359.54 359.67 L 359.50 356.07 L 359.63 352.51 Z"/></clipPath>
<path d="M 359.90 349.00 L 360.33 345.53 L 360.85 342.11 L 361.47 338.71 L 362.18 335.33 L 362.96 331.95 L 363.84 328.55 L 364.81 325.13 L 365.89 321.69 L 367.11 318.20 L 368.49 314.69 L 370.05 311.16 L 371.83 307.63 L 373.84 304.12 L 376.12 300.67 L 378.67 297.32 L 381.51 294.10 L 384.64 291.08 L 388.05 288.29 L 391.75 285.80 L 395.69 283.65 L 399.85 281.90 L 404.19 280.58 L 408.66 279.74 L 413.20 279.39 L 417.75 279.57 L 422.25 280.26 L 426.63 281.47 L 430.84 283.16 L 434.83 285.29 L 438.54 287.83 L 441.95 290.71 L 445.03 293.86 L 447.79 297.23 L 450.23 300.74 L 452.37 304.33 L 454.24 307.96 L 455.88 311.57 L 457.32 315.15 L 458.61 318.66 L 459.78 322.11 L 460.85 325.50 L 461.85 328.85 L 462.79 332.17 L 463.66 335.48 L 464.44 338.81 L 465.13 342.16 L 465.70 345.56 L 466.11 349.00 L 466.32 352.48 L 466.33 355.99 L 466.12 359.53 L 465.69 363.07 L 465.04 366.60 L 464.15 370.10 L 463.04 373.58 L 461.72 377.01 L 460.20 380.40 L 458.47 383.74 L 456.56 387.03 L 454.45 390.25 L 452.15 393.41 L 449.64 396.49 L 446.92 399.47 L 443.98 402.32 L 440.82 405.00 L 437.43 407.49 L 433.81 409.72 L 429.99 411.67 L 425.99 413.28 L 421.83 414.52 L 417.55 415.36 L 413.20 415.78 L 408.82 415.77 L 404.47 415.32 L 400.18 414.46 L 396.00 413.18 L 391.97 411.54 L 388.12 409.55 L 384.48 407.25 L 381.06 404.67 L 377.88 401.86 L 374.95 398.85 L 372.28 395.67 L 369.86 392.34 L 367.71 388.89 L 365.82 385.36 L 364.19 381.75 L 362.82 378.09 L 361.70 374.40 L 360.82 370.70 L 360.18 367.00 L 359.76 363.32 L 359.54 359.67 L 359.50 356.07 L 359.63 352.51 Z" fill="#0a8a6c" opacity="0.15"/>
<g transform="translate(4.6,2.6)" filter="url(#blur1)" opacity="0.95"><path d="M 356.00 349.00 L 356.44 345.28 L 357.00 341.60 L 357.69 337.96 L 358.48 334.34 L 359.38 330.73 L 360.38 327.12 L 361.50 323.50 L 362.75 319.87 L 364.15 316.22 L 365.72 312.56 L 367.48 308.90 L 369.46 305.26 L 371.68 301.66 L 374.16 298.13 L 376.92 294.71 L 379.97 291.44 L 383.30 288.38 L 386.92 285.56 L 390.81 283.04 L 394.95 280.88 L 399.30 279.11 L 403.82 277.79 L 408.48 276.94 L 413.20 276.59 L 417.93 276.77 L 422.62 277.47 L 427.19 278.68 L 431.59 280.38 L 435.76 282.53 L 439.67 285.09 L 443.28 288.00 L 446.57 291.20 L 449.54 294.62 L 452.18 298.19 L 454.53 301.87 L 456.61 305.59 L 458.45 309.32 L 460.09 313.02 L 461.57 316.68 L 462.91 320.30 L 464.16 323.87 L 465.31 327.42 L 466.37 330.95 L 467.35 334.49 L 468.23 338.05 L 468.98 341.66 L 469.58 345.30 L 470.01 349.00 L 470.23 352.74 L 470.23 356.51 L 469.98 360.30 L 469.49 364.08 L 468.74 367.85 L 467.74 371.59 L 466.50 375.29 L 465.03 378.93 L 463.34 382.50 L 461.44 386.01 L 459.33 389.46 L 457.02 392.82 L 454.51 396.10 L 451.79 399.29 L 448.85 402.36 L 445.69 405.28 L 442.31 408.03 L 438.70 410.56 L 434.87 412.84 L 430.84 414.82 L 426.62 416.45 L 422.25 417.71 L 417.76 418.56 L 413.20 418.98 L 408.61 418.97 L 404.05 418.51 L 399.55 417.63 L 395.16 416.33 L 390.91 414.65 L 386.85 412.62 L 382.98 410.27 L 379.35 407.64 L 375.95 404.75 L 372.80 401.65 L 369.92 398.36 L 367.29 394.91 L 364.94 391.32 L 362.85 387.63 L 361.04 383.85 L 359.50 380.00 L 358.23 376.11 L 357.22 372.19 L 356.47 368.26 L 355.96 364.34 L 355.68 360.44 L 355.60 356.58 L 355.72 352.77 Z M 359.90 349.00 L 360.33 345.53 L 360.85 342.11 L 361.47 338.71 L 362.18 335.33 L 362.96 331.95 L 363.84 328.55 L 364.81 325.13 L 365.89 321.69 L 367.11 318.20 L 368.49 314.69 L 370.05 311.16 L 371.83 307.63 L 373.84 304.12 L 376.12 300.67 L 378.67 297.32 L 381.51 294.10 L 384.64 291.08 L 388.05 288.29 L 391.75 285.80 L 395.69 283.65 L 399.85 281.90 L 404.19 280.58 L 408.66 279.74 L 413.20 279.39 L 417.75 279.57 L 422.25 280.26 L 426.63 281.47 L 430.84 283.16 L 434.83 285.29 L 438.54 287.83 L 441.95 290.71 L 445.03 293.86 L 447.79 297.23 L 450.23 300.74 L 452.37 304.33 L 454.24 307.96 L 455.88 311.57 L 457.32 315.15 L 458.61 318.66 L 459.78 322.11 L 460.85 325.50 L 461.85 328.85 L 462.79 332.17 L 463.66 335.48 L 464.44 338.81 L 465.13 342.16 L 465.70 345.56 L 466.11 349.00 L 466.32 352.48 L 466.33 355.99 L 466.12 359.53 L 465.69 363.07 L 465.04 366.60 L 464.15 370.10 L 463.04 373.58 L 461.72 377.01 L 460.20 380.40 L 458.47 383.74 L 456.56 387.03 L 454.45 390.25 L 452.15 393.41 L 449.64 396.49 L 446.92 399.47 L 443.98 402.32 L 440.82 405.00 L 437.43 407.49 L 433.81 409.72 L 429.99 411.67 L 425.99 413.28 L 421.83 414.52 L 417.55 415.36 L 413.20 415.78 L 408.82 415.77 L 404.47 415.32 L 400.18 414.46 L 396.00 413.18 L 391.97 411.54 L 388.12 409.55 L 384.48 407.25 L 381.06 404.67 L 377.88 401.86 L 374.95 398.85 L 372.28 395.67 L 369.86 392.34 L 367.71 388.89 L 365.82 385.36 L 364.19 381.75 L 362.82 378.09 L 361.70 374.40 L 360.82 370.70 L 360.18 367.00 L 359.76 363.32 L 359.54 359.67 L 359.50 356.07 L 359.63 352.51 Z" fill="#02271d" fill-rule="evenodd"/></g>
<rect x="414.4" y="421.5" width="6.8" height="40" fill="#03271e" filter="url(#blur05)" opacity="0.95"/>
<circle cx="414.2" cy="301.1" r="12.1" fill="#f04a3e" opacity="0.9"/>
<circle cx="413.8" cy="349.7" r="12.1" fill="#f04a3e" opacity="0.9"/>
<circle cx="372.8" cy="351.0" r="12.1" fill="#f04a3e" opacity="0.9"/>
<circle cx="454.1" cy="348.9" r="12.1" fill="#f04a3e" opacity="0.9"/>
<circle cx="413.6" cy="397.8" r="12.1" fill="#f04a3e" opacity="0.9"/>
<g clip-path="url(#hc)" stroke="#b4f0e0" stroke-width="0.85" opacity="0.55">
<line x1="357.00" y1="278" x2="357.00" y2="419"/>
<line x1="361.50" y1="278" x2="361.50" y2="419"/>
<line x1="366.00" y1="278" x2="366.00" y2="419"/>
<line x1="370.50" y1="278" x2="370.50" y2="419"/>
<line x1="375.00" y1="278" x2="375.00" y2="419"/>
<line x1="379.50" y1="278" x2="379.50" y2="419"/>
<line x1="384.00" y1="278" x2="384.00" y2="419"/>
<line x1="388.50" y1="278" x2="388.50" y2="419"/>
<line x1="393.00" y1="278" x2="393.00" y2="419"/>
<line x1="397.50" y1="278" x2="397.50" y2="419"/>
<line x1="402.00" y1="278" x2="402.00" y2="419"/>
<line x1="406.50" y1="278" x2="406.50" y2="419"/>
<line x1="411.00" y1="278" x2="411.00" y2="419"/>
<line x1="415.50" y1="278" x2="415.50" y2="419"/>
<line x1="420.00" y1="278" x2="420.00" y2="419"/>
<line x1="424.50" y1="278" x2="424.50" y2="419"/>
<line x1="429.00" y1="278" x2="429.00" y2="419"/>
<line x1="433.50" y1="278" x2="433.50" y2="419"/>
<line x1="438.00" y1="278" x2="438.00" y2="419"/>
<line x1="442.50" y1="278" x2="442.50" y2="419"/>
<line x1="447.00" y1="278" x2="447.00" y2="419"/>
<line x1="451.50" y1="278" x2="451.50" y2="419"/>
<line x1="456.00" y1="278" x2="456.00" y2="419"/>
<line x1="460.50" y1="278" x2="460.50" y2="419"/>
<line x1="465.00" y1="278" x2="465.00" y2="419"/>
<line x1="469.50" y1="278" x2="469.50" y2="419"/>
<line x1="355" y1="281.20" x2="471" y2="281.20"/>
<line x1="355" y1="285.20" x2="471" y2="285.20"/>
<line x1="355" y1="289.20" x2="471" y2="289.20"/>
<line x1="355" y1="293.20" x2="471" y2="293.20"/>
<line x1="355" y1="297.20" x2="471" y2="297.20"/>
<line x1="355" y1="301.20" x2="471" y2="301.20"/>
<line x1="355" y1="305.20" x2="471" y2="305.20"/>
<line x1="355" y1="309.20" x2="471" y2="309.20"/>
<line x1="355" y1="313.20" x2="471" y2="313.20"/>
<line x1="355" y1="317.20" x2="471" y2="317.20"/>
<line x1="355" y1="321.20" x2="471" y2="321.20"/>
<line x1="355" y1="325.20" x2="471" y2="325.20"/>
<line x1="355" y1="329.20" x2="471" y2="329.20"/>
<line x1="355" y1="333.20" x2="471" y2="333.20"/>
<line x1="355" y1="337.20" x2="471" y2="337.20"/>
<line x1="355" y1="341.20" x2="471" y2="341.20"/>
<line x1="355" y1="345.20" x2="471" y2="345.20"/>
<line x1="355" y1="349.20" x2="471" y2="349.20"/>
<line x1="355" y1="353.20" x2="471" y2="353.20"/>
<line x1="355" y1="357.20" x2="471" y2="357.20"/>
<line x1="355" y1="361.20" x2="471" y2="361.20"/>
<line x1="355" y1="365.20" x2="471" y2="365.20"/>
<line x1="355" y1="369.20" x2="471" y2="369.20"/>
<line x1="355" y1="373.20" x2="471" y2="373.20"/>
<line x1="355" y1="377.20" x2="471" y2="377.20"/>
<line x1="355" y1="381.20" x2="471" y2="381.20"/>
<line x1="355" y1="385.20" x2="471" y2="385.20"/>
<line x1="355" y1="389.20" x2="471" y2="389.20"/>
<line x1="355" y1="393.20" x2="471" y2="393.20"/>
<line x1="355" y1="397.20" x2="471" y2="397.20"/>
<line x1="355" y1="401.20" x2="471" y2="401.20"/>
<line x1="355" y1="405.20" x2="471" y2="405.20"/>
<line x1="355" y1="409.20" x2="471" y2="409.20"/>
<line x1="355" y1="413.20" x2="471" y2="413.20"/>
<line x1="355" y1="417.20" x2="471" y2="417.20"/>
</g>
<path d="M 356.00 349.00 L 356.44 345.28 L 357.00 341.60 L 357.69 337.96 L 358.48 334.34 L 359.38 330.73 L 360.38 327.12 L 361.50 323.50 L 362.75 319.87 L 364.15 316.22 L 365.72 312.56 L 367.48 308.90 L 369.46 305.26 L 371.68 301.66 L 374.16 298.13 L 376.92 294.71 L 379.97 291.44 L 383.30 288.38 L 386.92 285.56 L 390.81 283.04 L 394.95 280.88 L 399.30 279.11 L 403.82 277.79 L 408.48 276.94 L 413.20 276.59 L 417.93 276.77 L 422.62 277.47 L 427.19 278.68 L 431.59 280.38 L 435.76 282.53 L 439.67 285.09 L 443.28 288.00 L 446.57 291.20 L 449.54 294.62 L 452.18 298.19 L 454.53 301.87 L 456.61 305.59 L 458.45 309.32 L 460.09 313.02 L 461.57 316.68 L 462.91 320.30 L 464.16 323.87 L 465.31 327.42 L 466.37 330.95 L 467.35 334.49 L 468.23 338.05 L 468.98 341.66 L 469.58 345.30 L 470.01 349.00 L 470.23 352.74 L 470.23 356.51 L 469.98 360.30 L 469.49 364.08 L 468.74 367.85 L 467.74 371.59 L 466.50 375.29 L 465.03 378.93 L 463.34 382.50 L 461.44 386.01 L 459.33 389.46 L 457.02 392.82 L 454.51 396.10 L 451.79 399.29 L 448.85 402.36 L 445.69 405.28 L 442.31 408.03 L 438.70 410.56 L 434.87 412.84 L 430.84 414.82 L 426.62 416.45 L 422.25 417.71 L 417.76 418.56 L 413.20 418.98 L 408.61 418.97 L 404.05 418.51 L 399.55 417.63 L 395.16 416.33 L 390.91 414.65 L 386.85 412.62 L 382.98 410.27 L 379.35 407.64 L 375.95 404.75 L 372.80 401.65 L 369.92 398.36 L 367.29 394.91 L 364.94 391.32 L 362.85 387.63 L 361.04 383.85 L 359.50 380.00 L 358.23 376.11 L 357.22 372.19 L 356.47 368.26 L 355.96 364.34 L 355.68 360.44 L 355.60 356.58 L 355.72 352.77 Z M 359.90 349.00 L 360.33 345.53 L 360.85 342.11 L 361.47 338.71 L 362.18 335.33 L 362.96 331.95 L 363.84 328.55 L 364.81 325.13 L 365.89 321.69 L 367.11 318.20 L 368.49 314.69 L 370.05 311.16 L 371.83 307.63 L 373.84 304.12 L 376.12 300.67 L 378.67 297.32 L 381.51 294.10 L 384.64 291.08 L 388.05 288.29 L 391.75 285.80 L 395.69 283.65 L 399.85 281.90 L 404.19 280.58 L 408.66 279.74 L 413.20 279.39 L 417.75 279.57 L 422.25 280.26 L 426.63 281.47 L 430.84 283.16 L 434.83 285.29 L 438.54 287.83 L 441.95 290.71 L 445.03 293.86 L 447.79 297.23 L 450.23 300.74 L 452.37 304.33 L 454.24 307.96 L 455.88 311.57 L 457.32 315.15 L 458.61 318.66 L 459.78 322.11 L 460.85 325.50 L 461.85 328.85 L 462.79 332.17 L 463.66 335.48 L 464.44 338.81 L 465.13 342.16 L 465.70 345.56 L 466.11 349.00 L 466.32 352.48 L 466.33 355.99 L 466.12 359.53 L 465.69 363.07 L 465.04 366.60 L 464.15 370.10 L 463.04 373.58 L 461.72 377.01 L 460.20 380.40 L 458.47 383.74 L 456.56 387.03 L 454.45 390.25 L 452.15 393.41 L 449.64 396.49 L 446.92 399.47 L 443.98 402.32 L 440.82 405.00 L 437.43 407.49 L 433.81 409.72 L 429.99 411.67 L 425.99 413.28 L 421.83 414.52 L 417.55 415.36 L 413.20 415.78 L 408.82 415.77 L 404.47 415.32 L 400.18 414.46 L 396.00 413.18 L 391.97 411.54 L 388.12 409.55 L 384.48 407.25 L 381.06 404.67 L 377.88 401.86 L 374.95 398.85 L 372.28 395.67 L 369.86 392.34 L 367.71 388.89 L 365.82 385.36 L 364.19 381.75 L 362.82 378.09 L 361.70 374.40 L 360.82 370.70 L 360.18 367.00 L 359.76 363.32 L 359.54 359.67 L 359.50 356.07 L 359.63 352.51 Z" fill="#e2efe9" fill-rule="evenodd"/>
<path d="M 357.76 349.00 L 358.19 345.39 L 358.74 341.83 L 359.39 338.30 L 360.14 334.78 L 360.99 331.28 L 361.94 327.77 L 362.99 324.24 L 364.16 320.69 L 365.48 317.12 L 366.96 313.52 L 368.64 309.92 L 370.53 306.33 L 372.65 302.77 L 375.04 299.27 L 377.71 295.88 L 380.66 292.64 L 383.90 289.59 L 387.43 286.79 L 391.23 284.28 L 395.28 282.13 L 399.55 280.37 L 403.99 279.04 L 408.56 278.20 L 413.20 277.85 L 417.85 278.03 L 422.45 278.73 L 426.94 279.93 L 431.25 281.63 L 435.34 283.78 L 439.16 286.32 L 442.68 289.22 L 445.88 292.40 L 448.75 295.79 L 451.31 299.34 L 453.56 302.98 L 455.54 306.66 L 457.29 310.33 L 458.84 313.98 L 460.24 317.57 L 461.50 321.11 L 462.67 324.60 L 463.75 328.06 L 464.76 331.50 L 465.69 334.94 L 466.53 338.39 L 467.25 341.88 L 467.83 345.42 L 468.25 349.00 L 468.47 352.62 L 468.47 356.28 L 468.25 359.95 L 467.78 363.63 L 467.07 367.29 L 466.13 370.92 L 464.95 374.52 L 463.54 378.07 L 461.93 381.56 L 460.10 384.99 L 458.08 388.36 L 455.87 391.67 L 453.45 394.89 L 450.82 398.03 L 447.98 401.06 L 444.92 403.95 L 441.64 406.67 L 438.13 409.18 L 434.39 411.44 L 430.46 413.40 L 426.33 415.02 L 422.06 416.27 L 417.66 417.12 L 413.20 417.54 L 408.71 417.53 L 404.24 417.08 L 399.83 416.20 L 395.54 414.92 L 391.39 413.25 L 387.42 411.24 L 383.66 408.91 L 380.12 406.30 L 376.82 403.45 L 373.77 400.39 L 370.98 397.15 L 368.45 393.75 L 366.19 390.23 L 364.19 386.61 L 362.46 382.90 L 360.99 379.14 L 359.79 375.34 L 358.84 371.52 L 358.14 367.69 L 357.67 363.88 L 357.41 360.10 L 357.36 356.35 L 357.48 352.65 Z" fill="none" stroke="#ffffff" stroke-width="1.3" opacity="0.75"/>
<path d="M 404.5 416.6 Q 408.8 418.6 408.6 424 L 408.6 456 L 414.3 456 L 414.3 424 Q 414.2 418.6 419.5 416.6 Z" fill="#eaf4ef"/>
<line x1="365.6" y1="316.2" x2="365.6" y2="321.8" stroke="#3358d4" stroke-width="1.1" transform="rotate(24 365.6 319.0)"/>
<line x1="360.6" y1="383.7" x2="360.6" y2="389.3" stroke="#3358d4" stroke-width="1.1" transform="rotate(-20 360.6 386.5)"/>
<line x1="366.8" y1="394.4" x2="366.8" y2="400.0" stroke="#3358d4" stroke-width="1.1" transform="rotate(-36 366.8 397.2)"/>
<line x1="459.0" y1="388.2" x2="459.0" y2="393.8" stroke="#3358d4" stroke-width="1.1" transform="rotate(32 459.0 391.0)"/>
<line x1="464.0" y1="377.7" x2="464.0" y2="383.3" stroke="#3358d4" stroke-width="1.1" transform="rotate(20 464.0 380.5)"/>
<circle cx="414.2" cy="301.1" r="12.1" fill="#f04538" opacity="0.5"/>
<text x="414.2" y="305.1" text-anchor="middle" font-family='"Liberation Serif", "DejaVu Serif", serif' font-size="12" fill="#f9e01a" stroke="#f9e01a" stroke-width="0.12">1</text>
<circle cx="413.8" cy="349.7" r="12.1" fill="#f04538" opacity="0.5"/>
<text x="413.8" y="353.7" text-anchor="middle" font-family='"Liberation Serif", "DejaVu Serif", serif' font-size="12" fill="#f9e01a" stroke="#f9e01a" stroke-width="0.12">0</text>
<circle cx="372.8" cy="351.0" r="12.1" fill="#f04538" opacity="0.5"/>
<text x="372.8" y="355.0" text-anchor="middle" font-family='"Liberation Serif", "DejaVu Serif", serif' font-size="12" fill="#f9e01a" stroke="#f9e01a" stroke-width="0.12">3</text>
<circle cx="454.1" cy="348.9" r="12.1" fill="#f04538" opacity="0.5"/>
<text x="454.1" y="352.9" text-anchor="middle" font-family='"Liberation Serif", "DejaVu Serif", serif' font-size="12" fill="#f9e01a" stroke="#f9e01a" stroke-width="0.12">4</text>
<circle cx="413.6" cy="397.8" r="12.1" fill="#f04538" opacity="0.5"/>
<text x="413.6" y="401.8" text-anchor="middle" font-family='"Liberation Serif", "DejaVu Serif", serif' font-size="12" fill="#f9e01a" stroke="#f9e01a" stroke-width="0.12">2</text>
</g></g>
<text x="413.5" y="491.2" text-anchor="middle" font-family='"Liberation Serif", "DejaVu Serif", serif' font-size="11.6" fill="#1a1a1a" textLength="136" lengthAdjust="spacingAndGlyphs">(<tspan font-weight="bold">f</tspan>) Shooting target location</text>
</svg>
</body></html>
